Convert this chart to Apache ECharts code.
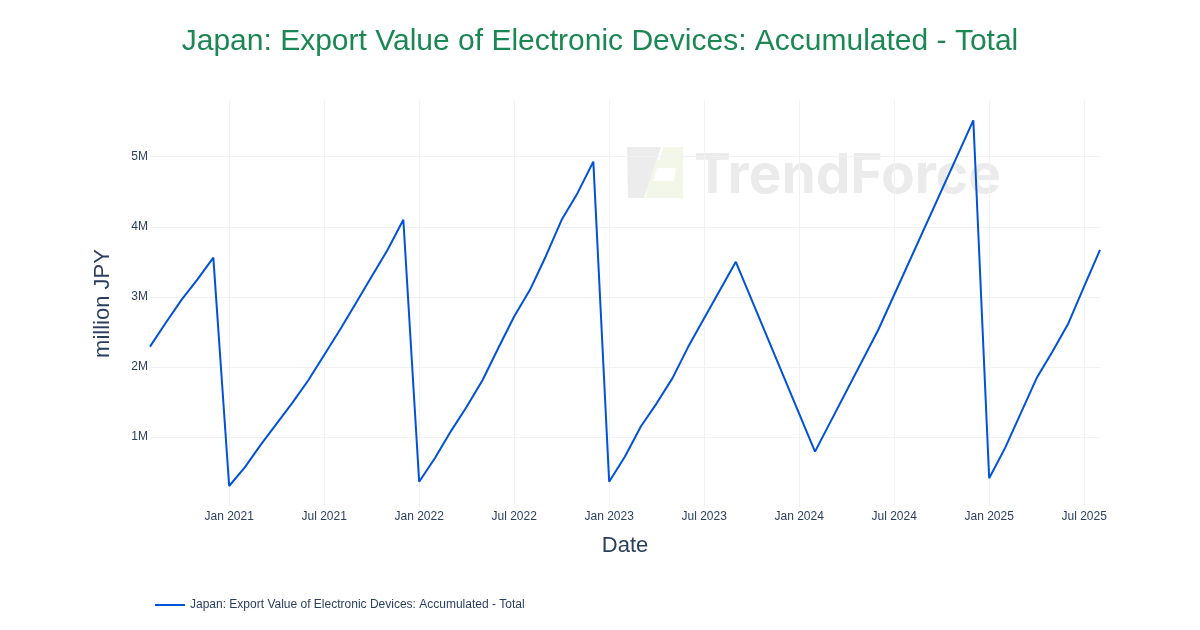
<!DOCTYPE html>
<html>
<head>
<meta charset="utf-8">
<script src="https://cdn.jsdelivr.net/npm/echarts@6/dist/echarts.min.js"></script>
<style>
  html, body { margin: 0; padding: 0; background: #fff; }
  #chart { width: 1200px; height: 630px; }
</style>
</head>
<body>
<div id="chart"></div>
<script>
// ----------------------
// DATA
// ----------------------
const months = [
  "Aug 2020", "Sep 2020", "Oct 2020", "Nov 2020", "Dec 2020",
  "Jan 2021", "Feb 2021", "Mar 2021", "Apr 2021", "May 2021", "Jun 2021",
  "Jul 2021", "Aug 2021", "Sep 2021", "Oct 2021", "Nov 2021", "Dec 2021",
  "Jan 2022", "Feb 2022", "Mar 2022", "Apr 2022", "May 2022", "Jun 2022",
  "Jul 2022", "Aug 2022", "Sep 2022", "Oct 2022", "Nov 2022", "Dec 2022",
  "Jan 2023", "Feb 2023", "Mar 2023", "Apr 2023", "May 2023", "Jun 2023",
  "Jul 2023", "Aug 2023", "Sep 2023", "Oct 2023", "Nov 2023", "Dec 2023",
  "Jan 2024", "Feb 2024", "Mar 2024", "Apr 2024", "May 2024", "Jun 2024",
  "Jul 2024", "Aug 2024", "Sep 2024", "Oct 2024", "Nov 2024", "Dec 2024",
  "Jan 2025", "Feb 2025", "Mar 2025", "Apr 2025", "May 2025", "Jun 2025",
  "Jul 2025", "Aug 2025",
];

// million JPY (shown as "M" on the axis); null = month missing in source
const exportValue = [
  2.29, 2.63, 2.96, 3.25, 3.56,
  0.30, 0.57, 0.89, 1.19, 1.49, 1.81,
  2.17, 2.53, 2.91, 3.29, 3.67, 4.10,
  0.36, 0.70, 1.08, 1.43, 1.81, 2.27,
  2.72, 3.10, 3.58, 4.10, 4.48, 4.93,
  0.36, 0.72, 1.15, 1.48, 1.84, 2.29,
  null, null, 3.50, null, null, null,
  null, 0.79, null, null, null, 2.53,
  null, null, null, null, null, 5.52,
  0.41, 0.84, 1.34, 1.84, 2.22, 2.62,
  3.15, 3.67,
];

const yTicks = [1, 2, 3, 4, 5];
const xTickMonths = ["Jan", "Jul"];

const seriesName = "Japan: Export Value of Electronic Devices: Accumulated - Total";
const textColor = "#2a3f5f";
const gridColor = "#f0f2f5";

// ----------------------
// CHART
// ----------------------
const chart = echarts.init(document.getElementById("chart"), null, { renderer: "canvas" });

const isTick = (idx, val) => xTickMonths.includes(String(val).slice(0, 3));

chart.setOption({
  animation: false,
  backgroundColor: "#fff",
  textStyle: { fontFamily: "'Liberation Sans', Arial, sans-serif" },
  title: {
    text: seriesName,
    left: "center",
    top: 27,
    padding: 0,
    textStyle: {
      color: "#1b8754",
      fontSize: 30,
      fontWeight: "normal",
      fontFamily: "'Liberation Sans', Arial, sans-serif",
    },
  },
  // TrendForce watermark, drawn behind the plot
  graphic: [
    {
      type: "polygon",
      z: -10,
      shape: { points: [[627, 147], [661, 147], [644, 198], [628, 198]] },
      style: { fill: "#ececec" },
    },
    {
      type: "polygon",
      z: -10,
      shape: { points: [[663, 147], [683, 147], [683, 198], [645, 198], [656, 160], [660, 160]] },
      style: { fill: "#f3f7ea" },
    },
    {
      type: "polygon",
      z: -9,
      shape: { points: [[657, 168], [676, 168], [674, 181], [653, 181]] },
      style: { fill: "#ffffff" },
    },
    {
      type: "text",
      z: -10,
      left: 694,
      top: 149,
      style: {
        text: "TrendForce",
        fill: "#ebebeb",
        font: "bold 55px Inter, 'Open Sans', sans-serif",
      },
    },
  ],
  legend: {
    left: 150,
    top: 594,
    itemWidth: 30,
    itemHeight: 14,
    textStyle: { color: textColor, fontSize: 12 },
    data: [{ name: seriesName, icon: "path://M0,6 L30,6 L30,8 L0,8 Z" }],
  },
  grid: { left: 150, right: 100, top: 100, bottom: 123 },
  xAxis: {
    type: "category",
    data: months,
    boundaryGap: false,
    name: "Date",
    nameLocation: "middle",
    nameGap: 28,
    nameTextStyle: { color: textColor, fontSize: 22 },
    axisLine: { show: false },
    axisTick: { show: false },
    axisLabel: {
      interval: isTick,
      color: textColor,
      fontSize: 12,
      margin: 4,
    },
    splitLine: {
      show: true,
      interval: isTick,
      lineStyle: { color: gridColor, width: 1 },
    },
  },
  yAxis: {
    type: "value",
    min: 0,
    max: 5.81,
    interval: 1,
    name: "million JPY",
    nameLocation: "middle",
    nameGap: 36,
    nameTextStyle: { color: textColor, fontSize: 22 },
    axisLine: { show: false },
    axisTick: { show: false },
    axisLabel: {
      color: textColor,
      fontSize: 12,
      margin: 2,
      showMinLabel: false,
      showMaxLabel: false,
      formatter: (v) => (yTicks.includes(v) ? v + "M" : ""),
    },
    splitLine: {
      show: true,
      showMinLine: false,
      showMaxLine: false,
      lineStyle: { color: gridColor, width: 1 },
    },
  },
  series: [
    {
      name: seriesName,
      type: "line",
      data: exportValue,
      connectNulls: true,
      symbol: "none",
      lineStyle: { color: "#0052d9", width: 2 },
      itemStyle: { color: "#0052d9" },
    },
  ],
});
</script>
</body>
</html>
